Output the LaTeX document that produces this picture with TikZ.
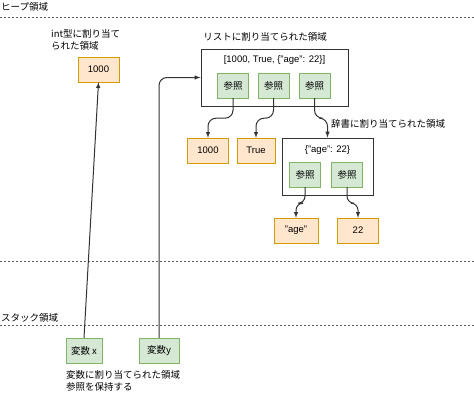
\documentclass[tikz,border=0pt]{standalone}
\usepackage{fontspec}
\setmainfont{Liberation Sans}
\newfontfamily\jp{Noto Sans CJK JP}
\definecolor{valfill}{HTML}{FFE6CC}
\definecolor{valline}{HTML}{D79B00}
\definecolor{reffill}{HTML}{D5E8D4}
\definecolor{refline}{HTML}{82B366}
\definecolor{darkline}{HTML}{333333}
\begin{document}
\begin{tikzpicture}[x=1pt, y=-1pt,
            font=\fontsize{9.5}{11}\selectfont,
            val/.style={draw=valline, fill=valfill, minimum width=41, minimum height=25, inner sep=1pt},
            ref/.style={draw=refline, fill=reffill, minimum width=31, minimum height=25, inner sep=1pt, font=\jp\fontsize{9.5}{11}\selectfont},
            area/.style={draw=darkline, fill=white, line width=1pt},
            jpnote/.style={inner sep=0pt, align=left, font=\jp\fontsize{9.5}{12.5}\selectfont},
            sep/.style={draw=darkline!80, line width=1pt, dash pattern=on 2pt off 2pt},
            arr/.style={draw=darkline, line width=1pt, -latex}]
            \useasboundingbox (0,0) rectangle (474,408);
            % regions
            \foreach \y in {17,261,325} {
                \draw[sep] (0,\y) -- (474,\y);
            }
            \node[jpnote, anchor=west] (heapname) at (1,7) {ヒープ領域};
            \node[jpnote, anchor=west] (stackname) at (1,318) {スタック領域};
            % int
            \node[jpnote, anchor=north west] (intname) at (51,29) {int型に割り当て\\られた領域};
            \node[val] (int1000) at (98.5,69.5) {1000};
            % list
            \node[area, minimum width=147, minimum height=57] (list) at (274.5,77.5) {};
            \node (listtext) at (274.5,60) {[1000, True, \{"age": 22\}]};
            \node[jpnote] (listname) at (265,37) {リストに割り当てられた領域};
            \foreach \n/\x in {1/233,2/273.5,3/314.5} {
                \node[ref] (lref\n) at (\x,85.5) {参照};
            }
            \node[val] (v1000) at (208,150.5) {1000};
            \node[val, minimum width=38] (vtrue) at (256,150.5) {True};
            % dict
            \node[area, minimum width=91, minimum height=57] (dict) at (327.5,166.5) {};
            \node (dicttext) at (327.5,150) {\{"age": 22\}};
            \node[jpnote, anchor=west] (dictname) at (331,124) {辞書に割り当てられた領域};
            \node[ref] (dref1) at (305,174.5) {参照};
            \node[ref] (dref2) at (347,174.5) {参照};
            \node[val, minimum width=44] (vage) at (296,230.5) {"age"};
            \node[val] (v22) at (358,230.5) {22};
            % stack
            \node[ref, minimum width=36] (varx) at (84,350.5) {変数 x};
            \node[ref, minimum width=40] (vary) at (159,350.5) {変数y};
            \node[jpnote, anchor=north west] (stacknote) at (66,370) {変数に割り当てられた領域\\参照を保持する};
            % references
            \draw[arr] (varx.north) -- (int1000.south);
            \draw[arr, rounded corners=8] (vary.north) |- (list.west);
            \foreach \a/\b in {lref1/v1000, lref2/vtrue, lref3/dict} {
                \draw[arr, rounded corners=8] (\a.south) -- ++(0,20) -| (\b.north);
            }
            \foreach \a/\b in {dref1/vage, dref2/v22} {
                \draw[arr, rounded corners=7] (\a.south) -- ++(0,16) -| (\b.north);
            }
        \end{tikzpicture}
\end{document}
